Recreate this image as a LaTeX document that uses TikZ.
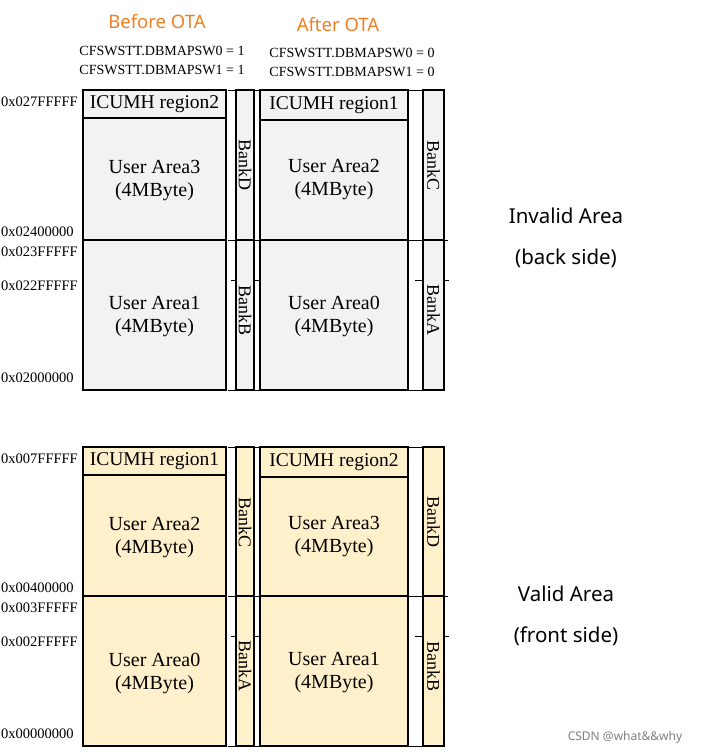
\documentclass[tikz,border=0pt]{standalone}
\usepackage{fontspec}
\setmainfont{Liberation Serif}
\newfontfamily\sansf{Noto Sans}
\begin{document}
\begin{tikzpicture}[x=1pt,y=-1pt,
  box/.style={draw,line width=1.1pt},
  lbl/.style={font=\fontsize{20}{23}\selectfont,align=center},
  hdr/.style={font=\fontsize{19.5}{21}\selectfont},
  addr/.style={font=\fontsize{14.5}{16}\selectfont,inner sep=0pt},
  cfs/.style={font=\fontsize{14}{16}\selectfont,inner sep=0pt},
  bank/.style={font=\fontsize{18}{20}\selectfont,rotate=-90},
  tick/.style={line width=1pt},
  area/.style={font=\sansf\fontsize{20.5}{41}\selectfont,align=center}]
\useasboundingbox (0,0) rectangle (705,753);
\definecolor{grayf}{HTML}{F2F2F2}
\definecolor{yelf}{HTML}{FFF0CC}
\definecolor{ora}{HTML}{F07F20}
\node[font=\sansf\fontsize{18.5}{20}\selectfont,text=ora] (bota) at (157,22) {Before OTA};
\node[font=\sansf\fontsize{18.5}{20}\selectfont,text=ora] (aota) at (338,25) {After OTA};
\node[cfs] (c1) at (162,51) {CFSWSTT.DBMAPSW0 = 1};
\node[cfs] (c2) at (162,70) {CFSWSTT.DBMAPSW1 = 1};
\node[cfs] (c3) at (352,53) {CFSWSTT.DBMAPSW0 = 0};
\node[cfs] (c4) at (352,72) {CFSWSTT.DBMAPSW1 = 0};
\foreach \f/\yo/\sa/\sb/\h/\ua/\ub/\uc/\ud/\hr/\bl/\bm/\br/\bs/\ad/\ae/\af/\ag/\ah in
 {grayf/90/240/390/2/3/1/2/0/1/D/B/C/A/0x027FFFFF/0x02400000/0x023FFFFF/0x022FFFFF/0x02000000,
  yelf/447/596/746/1/2/0/3/1/2/C/A/D/B/0x007FFFFF/0x00400000/0x003FFFFF/0x002FFFFF/0x00000000}{
  \path[box,fill=\f] (83,\yo) rectangle (226,\sb);
  \draw[box] (83,\yo+28) -- (226,\yo+28);
  \draw[box] (83,\sa) -- (226,\sa);
  \node[hdr] at (154.5,\yo+14) {ICUMH region\h};
  \node[lbl] at (154.5,{(\yo+28+\sa)/2+2}) {User Area\ua\\(4MByte)};
  \node[lbl] at (154.5,{(\sa+\sb)/2+2}) {User Area\ub\\(4MByte)};
  \path[box,fill=\f] (236,\yo) rectangle (254,\sb);
  \draw[box] (236,\sa) -- (254,\sa);
  \node[bank] at (245,{\yo+75}) {Bank\bl};
  \node[bank] at (245,{\sa+70}) {Bank\bm};
  \path[box,fill=\f] (260,\yo) rectangle (408,\sb);
  \draw[box] (260,\yo+30) -- (408,\yo+30);
  \draw[box] (260,\sa) -- (408,\sa);
  \node[hdr] at (334,\yo+15) {ICUMH region\hr};
  \node[lbl] at (334,{(\yo+30+\sa)/2}) {User Area\uc\\(4MByte)};
  \node[lbl] at (334,{(\sa+\sb)/2+2}) {User Area\ud\\(4MByte)};
  \path[box,fill=\f] (423,\yo) rectangle (444,\sb);
  \draw[box] (423,\sa) -- (444,\sa);
  \node[bank] at (433.5,{\yo+75}) {Bank\br};
  \node[bank] at (433.5,{\sa+70}) {Bank\bs};
  \foreach \yy in {\yo,\sa,\sb}{
    \draw[tick] (228,\yy) -- (235,\yy);
    \draw[tick] (255,\yy) -- (259,\yy);
    \draw[tick] (409,\yy) -- (422,\yy);
  }
  \draw[tick] (231,\sa+40) -- (236,\sa+40);
  \draw[tick] (254,\sa+40) -- (259,\sa+40);
  \draw[tick] (415,\sa+40) -- (422,\sa+40);
  \draw[tick] (445,\sa+40) -- (449,\sa+40);
  \draw[tick] (445,\sa) -- (448,\sa);
  \node[addr,anchor=west] at (1,\yo+12) {\ad};
  \node[addr,anchor=west] at (1,\sa-8) {\ae};
  \node[addr,anchor=west] at (1,\sa+12) {\af};
  \node[addr,anchor=west] at (1,\sa+46) {\ag};
  \node[addr,anchor=west] at (1,\sb-12) {\ah};
}
\node[area] (inv) at (566,238) {Invalid Area\\(back side)};
\node[area] (val) at (566,616) {Valid Area\\(front side)};
\node[font=\sansf\fontsize{12}{14}\selectfont,text=gray] (wm) at (625,737) {CSDN @what\&\&why};
\end{tikzpicture}
\end{document}
